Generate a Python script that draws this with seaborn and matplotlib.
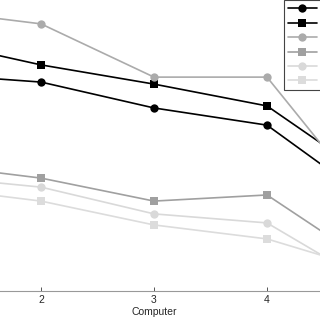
import numpy as np
import pandas as pd
import matplotlib
matplotlib.use("Agg")
import matplotlib.pyplot as plt
import seaborn as sns

computers = [1, 2, 3, 4, 5]
series_names = ["A1", "A2", "B1", "B2", "C1", "C2"]
a1 = [74.6, 71.8, 62.9, 57.0, 28.9]
a2 = [86.3, 77.7, 71.1, 63.6, 36.8]
b1 = [96.6, 91.8, 73.5, 73.5, 25.4]
b2 = [43.6, 38.8, 30.9, 33.0, 7.2]
c1 = [39.5, 35.7, 26.5, 23.4, 0.5]
c2 = [35.7, 30.9, 22.7, 17.9, 6.2]
shown_ticks = [2, 3, 4]

sns.set_style("white")
plt.rcParams['font.family'] = ['Liberation Sans', 'DejaVu Sans']

frames = []
for name, vals in zip(series_names, [a1, a2, b1, b2, c1, c2]):
    frames.append(pd.DataFrame({"Computer": computers, "Value": vals, "Series": name}))
df = pd.concat(frames, ignore_index=True)

palette = {"A1": "#000000", "A2": "#000000", "B1": "#ababab", "B2": "#a0a0a0",
           "C1": "#d9d9d9", "C2": "#dcdcdc"}
markers = {"A1": "o", "A2": "s", "B1": "o", "B2": "s", "C1": "o", "C2": "s"}

fig = plt.figure(figsize=(3.2, 3.2), dpi=100)
ax = fig.add_axes([-94.6 / 320, 29 / 320, 497.2 / 320, 291 / 320])

sns.lineplot(ax=ax, data=df, x="Computer", y="Value", hue="Series", style="Series",
             palette=palette, markers=markers, dashes=False, linewidth=1.2,
             markersize=6, markeredgewidth=0, hue_order=series_names,
             style_order=series_names)

ax.set_xlim(0.8, 5.2)
ax.set_ylim(0, 100)
ax.set_xticks(shown_ticks)
ax.set_yticks([])
ax.set_ylabel(None)
ax.set_xlabel("Computer", fontsize=7.5, labelpad=1)
for s in ["top", "left", "right"]:
    ax.spines[s].set_visible(False)
ax.spines["bottom"].set_color("#999999")
ax.spines["bottom"].set_linewidth(0.8)
ax.tick_params(axis="x", direction="in", length=3, width=0.7, color="#555555",
               labelsize=7.5, pad=3, bottom=True)

handles, _ = ax.get_legend_handles_labels()
leg = ax.legend(handles, [""] * len(handles), loc="upper left",
                bbox_to_anchor=(284 / 320, 1.0),
                bbox_transform=fig.transFigure, borderaxespad=0, fontsize=7,
                labelspacing=0.45, handlelength=3.0, fancybox=False,
                framealpha=1, edgecolor="#444444", title=None)
leg.get_frame().set_linewidth(0.8)

plt.savefig("out.png", dpi=100)
